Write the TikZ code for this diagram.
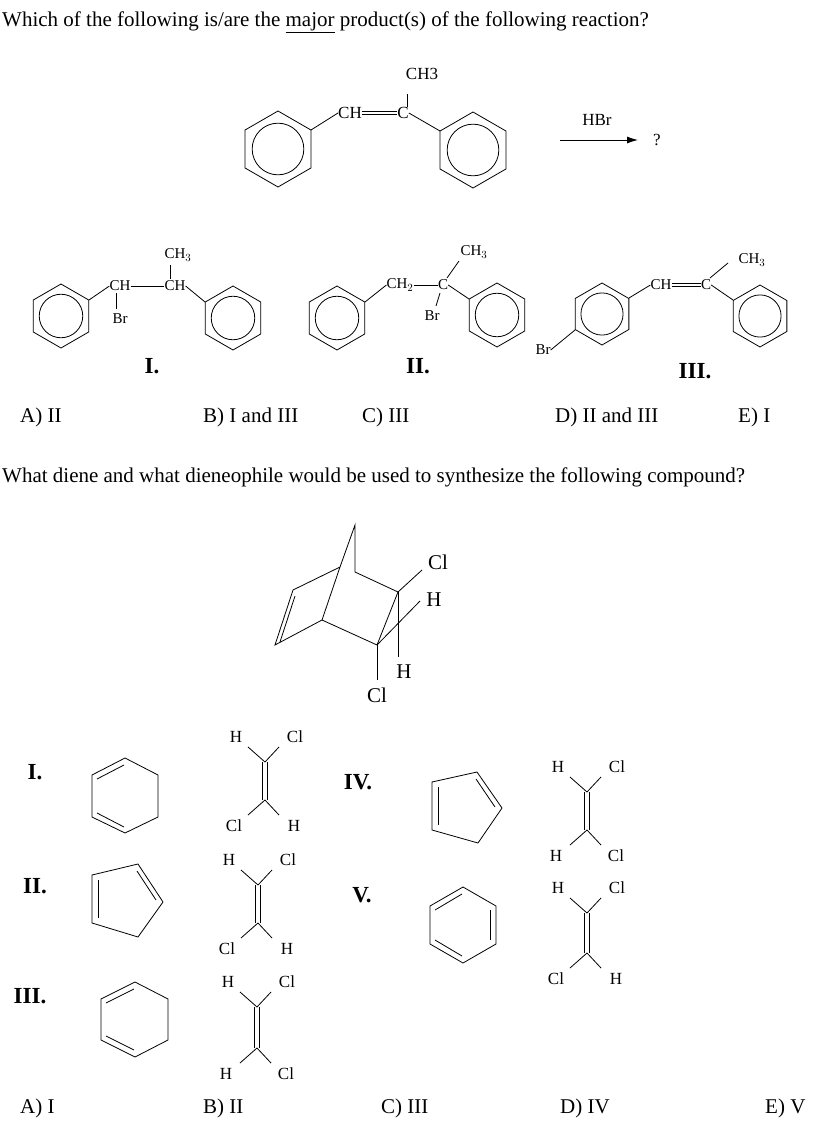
\documentclass[tikz,border=0pt]{standalone}
\usepackage{fontspec}
\setmainfont{Liberation Serif}
\usetikzlibrary{arrows.meta, positioning}

\tikzset{
  bond/.style={line width=0.8pt},
  lbl/.style={font=\fontsize{17}{17}\selectfont, inner sep=0pt},
  slbl/.style={font=\fontsize{15}{15}\selectfont, inner sep=0pt},
  qtext/.style={font=\fontsize{21}{21}\selectfont, inner sep=0pt, anchor=west},
  roman/.style={font=\fontsize{23}{23}\selectfont\bfseries, inner sep=0pt},
}
% phenyl ring: x, y, radius (y axis points down)
\newcommand{\phenyl}[3]{%
  \draw[bond] (#1,#2) +(270:#3) -- +(330:#3) -- +(30:#3) -- +(90:#3) -- +(150:#3) -- +(210:#3) -- cycle;
  \draw[bond] (#1,#2) circle[radius=0.68*#3];}

\begin{document}
\begin{tikzpicture}[x=1pt,y=-1pt]
\useasboundingbox (0,0) rectangle (838,1134);

% question 1
\node[qtext] (q1) at (2,22) {Which of the following is/are the \underline{major} product(s) of the following reaction?};

% starting alkene
\phenyl{278}{149}{38}
\phenyl{473}{150}{38}
\node[lbl] (sCH) at (350,113) {CH};
\node[lbl] (sC) at (403,113) {C};
\node[lbl] (sMe) at (422,74) {CH3};
\draw[bond] (311,130) -- (sCH.west);
\draw[bond] ([yshift=-1.5pt]sCH.east) -- ([yshift=-1.5pt]sC.west);
\draw[bond] ([yshift=1.5pt]sCH.east) -- ([yshift=1.5pt]sC.west);
\draw[bond] (sC.north) ++(4,0) -- ++(0,-13);
\draw[bond] (sC.east) -- (440,131);
\node[lbl] (hbr) at (597,120) {HBr};
\coordinate (a1) at (560,140);
\coordinate (a2) at (638,140);
\draw[bond,-{Latex[length=11pt,width=7pt]}] (a1) -- (a2);
\node[lbl] (qm) at (657,140) {?};

% product I
\phenyl{61}{316}{32}
\phenyl{233}{318}{32}
\node[slbl] (pCH1) at (120,286) {CH};
\node[slbl] (pCH2) at (175,286) {CH};
\node[slbl] (pMe1) at (178,255) {CH$_3$};
\node[slbl] (pBr1) at (120,319) {Br};
\draw[bond] (89,300) -- (pCH1.west);
\draw[bond] (pCH1.east) -- (pCH2.west);
\draw[bond] (170,265) -- (170,279);
\draw[bond] (116,293) -- (116,309);
\draw[bond] (pCH2.east) -- (205,302);
\node[roman] (r1) at (152,366) {I.};

% product II
\phenyl{337}{318}{32}
\phenyl{497}{315}{32}
\node[slbl] (qCH2) at (400,285) {CH$_2$};
\node[slbl] (qC) at (443,285) {C};
\node[slbl] (qMe) at (474,252) {CH$_3$};
\node[slbl] (qBr) at (432,316) {Br};
\draw[bond] (365,302) -- (qCH2.west);
\draw[bond] (qCH2.east) -- (qC.west);
\draw[bond] (447,278) -- (459,261);
\draw[bond] (440,293) -- (436,306);
\draw[bond] (qC.east) -- (469,299);
\node[roman] (r2) at (418,366) {II.};

% product III
\phenyl{602}{314}{31}
\phenyl{760}{316}{31}
\node[slbl] (tCH) at (661,285) {CH};
\node[slbl] (tC) at (706,285) {C};
\node[slbl] (tMe) at (752,260) {CH$_3$};
\node[slbl] (tBr) at (543,350) {Br};
\draw[bond] (629,298) -- (tCH.west);
\draw[bond] ([yshift=-1.5pt]tCH.east) -- ([yshift=-1.5pt]tC.west);
\draw[bond] ([yshift=1.5pt]tCH.east) -- ([yshift=1.5pt]tC.west);
\draw[bond] (710,278) -- (728,263);
\draw[bond] (tC.east) -- (733,300);
\draw[bond] (575,330) -- (tBr.east);
\node[roman] (r3) at (695,371) {III.};

% answers 1
\node[qtext] (a1A) at (20,417) {A) II};
\node[qtext] (a1B) at (203,417) {B) I and III};
\node[qtext] (a1C) at (362,417) {C) III};
\node[qtext] (a1D) at (555,417) {D) II and III};
\node[qtext] (a1E) at (738,417) {E) I};

% question 2
\node[qtext] (q2) at (2,477) {What diene and what dieneophile would be used to synthesize the following compound?};

% bicyclic product
\coordinate (nb7) at (355,525);
\coordinate (nb1) at (340,567);
\coordinate (nb7b) at (355,572);
\coordinate (nb2) at (293,590);
\coordinate (nb3) at (275,645);
\coordinate (nb4) at (322,620);
\coordinate (nb5) at (398,592);
\coordinate (nb6) at (377,645);
\draw[bond] (nb1) -- (nb7) -- (nb7b) -- (nb5) -- (nb6) -- (nb4) -- (nb3) -- (nb2) -- (nb1) -- (nb4);
\draw[bond] (nb3) ++(5,-3) -- ++(15,-46);
\node[lbl,font=\fontsize{21}{21}\selectfont] (nCl1) at (438,562) {Cl};
\node[lbl,font=\fontsize{21}{21}\selectfont] (nH1) at (434,600) {H};
\node[lbl,font=\fontsize{21}{21}\selectfont] (nH2) at (404,672) {H};
\node[lbl,font=\fontsize{21}{21}\selectfont] (nCl2) at (377,695) {Cl};
\draw[bond] (nb5) -- (422,570);
\draw[bond] (nb5) -- (398,657);
\draw[bond] (nb6) -- (420,601);
\draw[bond] (nb6) -- (377,680);

% diene options
\node[roman] (d1) at (35,772) {I.};
\draw[bond] (125,758) -- (158,775) -- (158,817) -- (125,833) -- (92,817) -- (92,775) -- cycle;
\draw[bond] (97,779) -- (124,765);
\draw[bond] (97,813) -- (124,827);

\node[roman] (d2) at (35,886) {II.};
\draw[bond] (92,875) -- (138,864) -- (163,902) -- (138,937) -- (92,923) -- cycle;
\draw[bond] (98,880) -- (98,918);
\draw[bond] (137,871) -- (156,900);

\node[roman] (d3) at (30,996) {III.};
\draw[bond] (135,982) -- (168,999) -- (168,1040) -- (135,1057) -- (101,1040) -- (101,999) -- cycle;
\draw[bond] (106,1003) -- (134,989);
\draw[bond] (106,1036) -- (134,1050);

\node[roman] (d4) at (358,782) {IV.};
\draw[bond] (432,782) -- (477,772) -- (502,808) -- (478,843) -- (432,830) -- cycle;
\draw[bond] (438,787) -- (438,825);
\draw[bond] (476,779) -- (495,807);

\node[roman] (d5) at (362,895) {V.};
\draw[bond] (463,887) -- (496,906) -- (496,944) -- (463,963) -- (430,944) -- (430,906) -- cycle;
\draw[bond] (435,910) -- (462,894);
\draw[bond] (490,910) -- (490,940);
\draw[bond] (435,940) -- (462,956);

% dienophiles: x, top C y, bottom C y, four labels
\newcommand{\alkene}[7]{%
  \draw[bond] (#1-2.5,#2) -- (#1-2.5,#3);
  \draw[bond] (#1+2.5,#2) -- (#1+2.5,#3);
  \node[lbl] at (#1-29,#2-25) {#4};
  \node[lbl] at (#1+30,#2-25) {#5};
  \node[lbl] at (#1-31,#3+26) {#6};
  \node[lbl] at (#1+29,#3+26) {#7};
  \draw[bond] (#1,#2) -- (#1-17,#2-15);
  \draw[bond] (#1,#2) -- (#1+14,#2-15);
  \draw[bond] (#1,#3) -- (#1-17,#3+15);
  \draw[bond] (#1,#3) -- (#1+14,#3+15);}
\alkene{265}{762}{800}{H}{Cl}{Cl}{H}
\alkene{258}{885}{923}{H}{Cl}{Cl}{H}
\alkene{257}{1007}{1048}{H}{Cl}{H}{Cl}
\alkene{587}{792}{830}{H}{Cl}{H}{Cl}
\alkene{587}{913}{953}{H}{Cl}{Cl}{H}

% answers 2
\node[qtext] (a2A) at (20,1108) {A) I};
\node[qtext] (a2B) at (203,1108) {B) II};
\node[qtext] (a2C) at (381,1108) {C) III};
\node[qtext] (a2D) at (560,1108) {D) IV};
\node[qtext] (a2E) at (765,1108) {E) V};
\end{tikzpicture}
\end{document}
